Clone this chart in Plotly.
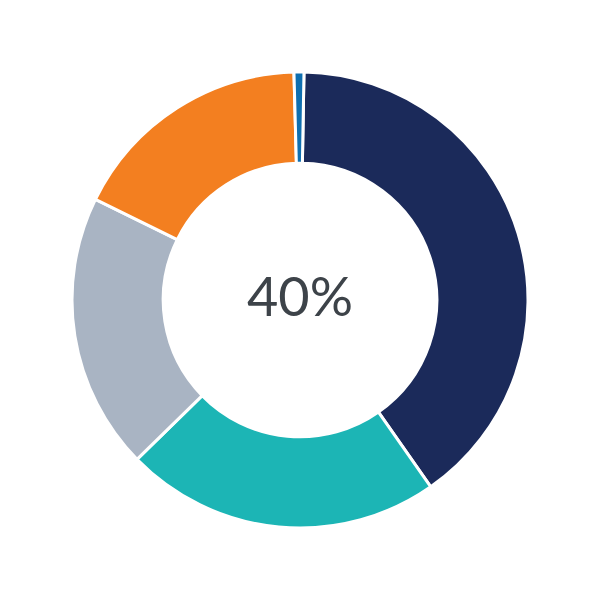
import plotly.graph_objects as go

labels = ["Navy", "Teal", "Gray", "Orange", "Blue"]
values = [40.0, 22.4, 19.6, 17.3, 0.7]
colors = ["#1b2a5a", "#1cb5b5", "#a9b4c3", "#f37f20", "#0f6fb0"]
center_text = "40%"

fig = go.Figure()

fig.add_trace(go.Pie(
    labels=labels,
    values=values,
    hole=0.6,
    sort=False,
    direction="clockwise",
    rotation=1,
    textinfo="none",
    hoverinfo="label+percent",
    marker=dict(colors=colors, line=dict(color="white", width=3)),
))

fig.add_annotation(
    text=center_text, x=0.5, y=0.5, xref="paper", yref="paper", yshift=5,
    showarrow=False, font=dict(family="Lato", size=54, color="#3d4349"),
)

# page body adds 8px offset, so shift the pie up/left
fig.update_layout(
    width=600, height=600,
    margin=dict(l=64, r=80, t=64, b=80),
    showlegend=False,
    paper_bgcolor="white",
    plot_bgcolor="white",
)

fig.write_html("out.html")
